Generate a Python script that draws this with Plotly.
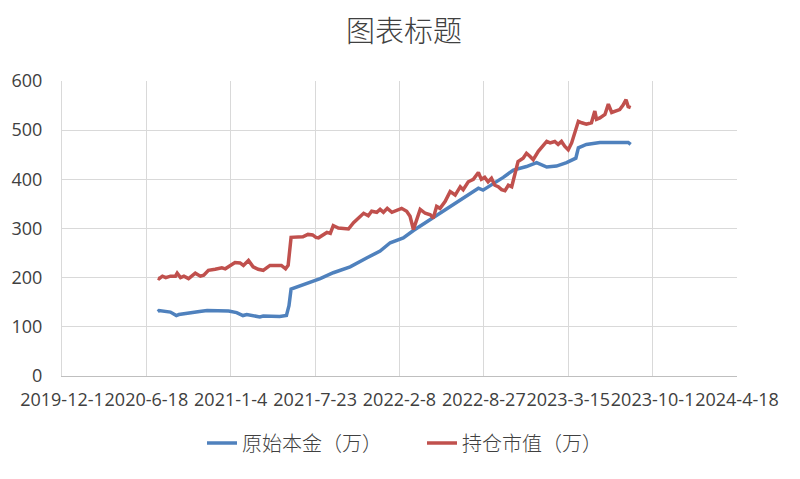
import pandas as pd
import plotly.graph_objects as go

start_date = "2019-12-01"

# day offsets from start_date and values (万)
blue_days = [227, 230, 257, 271, 277, 304, 326, 344, 390, 395, 414, 429, 438, 469, 477, 516, 532,
             538, 543, 563, 587, 612, 643, 683, 722, 754, 778, 797, 809, 833, 865, 896, 936, 967,
             987, 998, 1022, 1046, 1070, 1101, 1125, 1149, 1172, 1196, 1218, 1224, 1243, 1275,
             1322, 1342, 1348]
blue_vals = [131, 133, 130, 123, 125, 129, 131, 133, 131, 132, 129, 123, 125, 120, 122, 121, 123,
             143, 177, 183, 189, 198, 210, 222, 240, 254, 271, 276, 281, 296, 314, 331, 353, 370,
             382, 378, 390, 404, 419, 426, 434, 425, 427, 434, 443, 464, 471, 475,
             475, 475, 471]

red_days = [227, 230, 238, 246, 257, 269, 273, 281, 289, 300, 316, 328, 336, 347, 363, 379, 387,
            398, 410, 422, 430, 442, 453, 465, 477, 485, 493, 520, 530, 536, 543, 571, 583, 594,
            602, 608, 620, 628, 636, 643, 655, 679, 691, 703, 715, 726, 734, 746, 754, 762, 771,
            782, 794, 805, 817, 825, 833, 841, 849, 861, 873, 880, 888, 896, 908, 920, 932, 944,
            951, 963, 975, 987, 994, 1002, 1010, 1018, 1026, 1034, 1042, 1050, 1058, 1066, 1074,
            1081, 1093, 1101, 1109, 1117, 1129, 1141, 1149, 1157, 1168, 1176, 1184, 1192, 1200,
            1208, 1216, 1224, 1232, 1243, 1255, 1263, 1267, 1275, 1287, 1295, 1303, 1315, 1322,
            1330, 1337, 1342, 1348]
red_vals = [199, 198, 203, 200, 203, 203, 209, 200, 203, 198, 209, 203, 205, 215, 217, 220, 218,
            225, 231, 230, 225, 235, 222, 217, 215, 220, 225, 225, 218, 225, 282, 283, 288, 287,
            282, 281, 288, 292, 290, 306, 301, 299, 312, 321, 331, 326, 335, 333, 339, 333, 341,
            333, 338, 341, 335, 325, 298, 318, 339, 331, 328, 321, 345, 341, 355, 375, 368, 385,
            379, 395, 400, 414, 400, 404, 395, 402, 388, 385, 379, 377, 388, 385, 416,
            436, 443, 453, 447, 440, 457, 468, 477, 474, 477, 471, 477, 467, 460,
            474, 495, 518, 515, 512, 515, 539, 522, 525, 532, 553, 536, 539, 542,
            551, 562, 548, 546]

series_names = ["原始本金（万）", "持仓市值（万）"]
axis_end = "2024-04-18"
tick_step_days = 200

t0 = pd.Timestamp(start_date)
blue_x = t0 + pd.to_timedelta(blue_days, unit="D")
red_x = t0 + pd.to_timedelta(red_days, unit="D")

font_main = "Open Sans, Noto Sans CJK SC, sans-serif"
font_cjk = "Noto Sans CJK SC, sans-serif"
txt = "#404040"
grid = "#D9D9D9"

fig = go.Figure()
fig.add_trace(go.Scatter(x=blue_x, y=blue_vals, mode="lines", name=series_names[0],
                         line=dict(color="#4F81BD", width=3.5)))
fig.add_trace(go.Scatter(x=red_x, y=red_vals, mode="lines", name=series_names[1],
                         line=dict(color="#C0504D", width=3.5)))

# page body has an 8px default margin at top/left, so the figure is shifted by 8px
fig.update_layout(
    width=792, height=471,
    margin=dict(l=54, r=63, t=73, b=103, autoexpand=False),
    paper_bgcolor="white", plot_bgcolor="white",
    title=dict(text="图表标题", x=0.5, xanchor="center", y=1 - 23.5 / 471, yanchor="middle",
               font=dict(family=font_cjk, size=29, color=txt, weight=300)),
    font=dict(family=font_main, size=18, color=txt),
    legend=dict(orientation="h", x=(422 - 62) / 675, xref="paper", xanchor="center",
                y=-67 / 295, yanchor="middle",
                font=dict(family=font_cjk, size=20, color=txt, weight=300),
                entrywidth=175, entrywidthmode="pixels"),
    showlegend=True,
)
fig.update_xaxes(
    type="date", range=[start_date, axis_end], tick0=start_date,
    dtick=tick_step_days * 86400000, tickformat="%Y-%-m-%-d", tickangle=0,
    showgrid=True, gridcolor=grid, gridwidth=1, automargin=False,
    showline=True, linecolor="#BFBFBF", linewidth=1, mirror=False,
    ticks="", ticklabelstandoff=7, zeroline=False,
    tickfont=dict(family=font_main, size=18, color=txt),
)
fig.update_yaxes(
    range=[0, 600], dtick=100, tick0=0, automargin=False,
    showgrid=True, gridcolor=grid, gridwidth=1,
    showline=True, linecolor=grid, linewidth=1,
    ticks="", ticklabelstandoff=15, zeroline=False,
    tickfont=dict(family=font_main, size=18, color=txt),
)

fig.write_html("out.html")
